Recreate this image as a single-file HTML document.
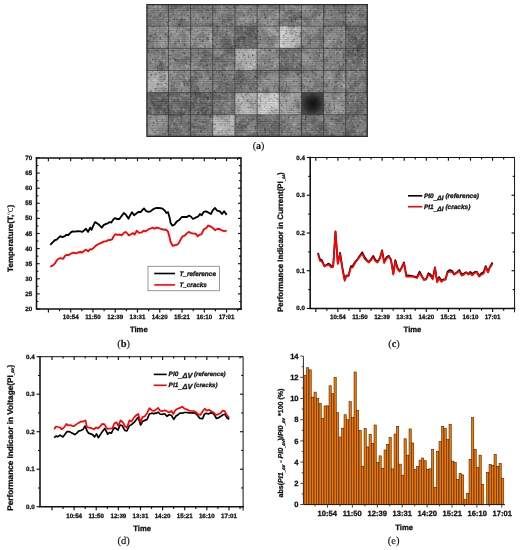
<!DOCTYPE html><html><head><meta charset="utf-8"><title>Figure</title>
<style>html,body{margin:0;padding:0;background:#fff}svg{display:block}text{font-family:"Liberation Sans","Noto Sans CJK SC",sans-serif;font-weight:bold;fill:#111;stroke:#111;stroke-width:0.28;text-rendering:geometricPrecision}.cap{font-family:"Liberation Serif",serif;font-weight:normal;fill:#111;stroke:#111;stroke-width:0.15}.ax{stroke:#111;fill:none}</style></head><body>
<svg width="524" height="550" viewBox="0 0 524 550">
<defs><filter id="nzd" x="0" y="0" width="100%" height="100%"><feTurbulence type="fractalNoise" baseFrequency="0.42" numOctaves="2" seed="3"/><feColorMatrix type="matrix" values="0 0 0 0 0  0 0 0 0 0  0 0 0 0 0  1.5 0 0 0 -0.86"/></filter><filter id="nzl" x="0" y="0" width="100%" height="100%"><feTurbulence type="fractalNoise" baseFrequency="0.35" numOctaves="2" seed="11"/><feColorMatrix type="matrix" values="0 0 0 0 1  0 0 0 0 1  0 0 0 0 1  0.8 0 0 0 -0.42"/></filter><filter id="cl" x="0" y="0" width="100%" height="100%"><feTurbulence type="fractalNoise" baseFrequency="0.09" numOctaves="2" seed="5"/><feColorMatrix type="matrix" values="0 0 0 0 0  0 0 0 0 0  0 0 0 0 0  0.55 0 0 0 -0.22"/></filter><filter id="cw" x="0" y="0" width="100%" height="100%"><feTurbulence type="fractalNoise" baseFrequency="0.08" numOctaves="2" seed="21"/><feColorMatrix type="matrix" values="0 0 0 0 1  0 0 0 0 1  0 0 0 0 1  0.45 0 0 0 -0.18"/></filter><radialGradient id="dk"><stop offset="0" stop-color="#0c0c0c"/><stop offset="0.6" stop-color="#262626"/><stop offset="1" stop-color="#444"/></radialGradient><linearGradient id="g12" x1="0" y1="0" x2="1" y2="0"><stop offset="0" stop-color="#8b8b8b"/><stop offset="1" stop-color="#ababab"/></linearGradient><linearGradient id="g15" x1="0" y1="0" x2="1" y2="0"><stop offset="0" stop-color="#8b8b8b"/><stop offset="1" stop-color="#a7a7a7"/></linearGradient><linearGradient id="g16" x1="0" y1="0" x2="1" y2="0"><stop offset="0" stop-color="#d9d9d9"/><stop offset="1" stop-color="#b1b1b1"/></linearGradient><linearGradient id="g17" x1="0" y1="0" x2="1" y2="0"><stop offset="0" stop-color="#959595"/><stop offset="1" stop-color="#818181"/></linearGradient><linearGradient id="g50" x1="0" y1="0" x2="1" y2="0"><stop offset="0" stop-color="#a1a1a1"/><stop offset="1" stop-color="#8b8b8b"/></linearGradient><linearGradient id="g46" x1="0" y1="0" x2="1" y2="0"><stop offset="0" stop-color="#b5b5b5"/><stop offset="1" stop-color="#9d9d9d"/></linearGradient></defs>
<rect width="524" height="550" fill="#fff"/>
<clipPath id="elc"><rect x="146.30" y="3.90" width="221.60" height="133.08"/></clipPath>
<g id="el" clip-path="url(#elc)">
<rect x="146.30" y="3.90" width="221.60" height="133.08" fill="#383838"/>
<rect x="146.30" y="3.90" width="22.21" height="22.23" fill="#828282"/>
<rect x="168.46" y="3.90" width="22.21" height="22.23" fill="#808080"/>
<rect x="190.62" y="3.90" width="22.21" height="22.23" fill="#7c7c7c"/>
<rect x="212.78" y="3.90" width="22.21" height="22.23" fill="#868686"/>
<rect x="234.94" y="3.90" width="22.21" height="22.23" fill="#828282"/>
<rect x="257.10" y="3.90" width="22.21" height="22.23" fill="#888888"/>
<rect x="279.26" y="3.90" width="22.21" height="22.23" fill="#828282"/>
<rect x="301.42" y="3.90" width="22.21" height="22.23" fill="#868686"/>
<rect x="323.58" y="3.90" width="22.21" height="22.23" fill="#767676"/>
<rect x="345.74" y="3.90" width="22.21" height="22.23" fill="#7e7e7e"/>
<rect x="146.30" y="26.08" width="22.21" height="22.23" fill="#909090"/>
<rect x="168.46" y="26.08" width="22.21" height="22.23" fill="#949494"/>
<rect x="190.62" y="26.08" width="22.21" height="22.23" fill="url(#g12)"/>
<rect x="212.78" y="26.08" width="22.21" height="22.23" fill="#787878"/>
<rect x="234.94" y="26.08" width="22.21" height="22.23" fill="#6e6e6e"/>
<rect x="257.10" y="26.08" width="22.21" height="22.23" fill="url(#g15)"/>
<rect x="279.26" y="26.08" width="22.21" height="22.23" fill="url(#g16)"/>
<rect x="301.42" y="26.08" width="22.21" height="22.23" fill="url(#g17)"/>
<rect x="323.58" y="26.08" width="22.21" height="22.23" fill="#909090"/>
<rect x="345.74" y="26.08" width="22.21" height="22.23" fill="#6c6c6c"/>
<rect x="146.30" y="48.26" width="22.21" height="22.23" fill="#868686"/>
<rect x="168.46" y="48.26" width="22.21" height="22.23" fill="#888888"/>
<rect x="190.62" y="48.26" width="22.21" height="22.23" fill="#808080"/>
<rect x="212.78" y="48.26" width="22.21" height="22.23" fill="#7c7c7c"/>
<rect x="234.94" y="48.26" width="22.21" height="22.23" fill="#b2b2b2"/>
<rect x="257.10" y="48.26" width="22.21" height="22.23" fill="#949494"/>
<rect x="279.26" y="48.26" width="22.21" height="22.23" fill="#767676"/>
<rect x="301.42" y="48.26" width="22.21" height="22.23" fill="#8c8c8c"/>
<rect x="323.58" y="48.26" width="22.21" height="22.23" fill="#828282"/>
<rect x="345.74" y="48.26" width="22.21" height="22.23" fill="#747474"/>
<rect x="146.30" y="70.44" width="22.21" height="22.23" fill="#b2b2b2"/>
<rect x="168.46" y="70.44" width="22.21" height="22.23" fill="#888888"/>
<rect x="190.62" y="70.44" width="22.21" height="22.23" fill="#848484"/>
<rect x="212.78" y="70.44" width="22.21" height="22.23" fill="#747474"/>
<rect x="234.94" y="70.44" width="22.21" height="22.23" fill="#7a7a7a"/>
<rect x="257.10" y="70.44" width="22.21" height="22.23" fill="#8c8c8c"/>
<rect x="279.26" y="70.44" width="22.21" height="22.23" fill="#868686"/>
<rect x="301.42" y="70.44" width="22.21" height="22.23" fill="#868686"/>
<rect x="323.58" y="70.44" width="22.21" height="22.23" fill="#8e8e8e"/>
<rect x="345.74" y="70.44" width="22.21" height="22.23" fill="#7e7e7e"/>
<rect x="146.30" y="92.62" width="22.21" height="22.23" fill="#666666"/>
<rect x="168.46" y="92.62" width="22.21" height="22.23" fill="#6e6e6e"/>
<rect x="190.62" y="92.62" width="22.21" height="22.23" fill="#686868"/>
<rect x="212.78" y="92.62" width="22.21" height="22.23" fill="#7c7c7c"/>
<rect x="234.94" y="92.62" width="22.21" height="22.23" fill="#bababa"/>
<rect x="257.10" y="92.62" width="22.21" height="22.23" fill="#d2d2d2"/>
<rect x="279.26" y="92.62" width="22.21" height="22.23" fill="url(#g46)"/>
<rect x="301.42" y="92.62" width="22.21" height="22.23" fill="url(#dk)"/>
<rect x="323.58" y="92.62" width="22.21" height="22.23" fill="#949494"/>
<rect x="345.74" y="92.62" width="22.21" height="22.23" fill="#747474"/>
<rect x="146.30" y="114.80" width="22.21" height="22.23" fill="url(#g50)"/>
<rect x="168.46" y="114.80" width="22.21" height="22.23" fill="#787878"/>
<rect x="190.62" y="114.80" width="22.21" height="22.23" fill="#787878"/>
<rect x="212.78" y="114.80" width="22.21" height="22.23" fill="#bebebe"/>
<rect x="234.94" y="114.80" width="22.21" height="22.23" fill="#7a7a7a"/>
<rect x="257.10" y="114.80" width="22.21" height="22.23" fill="#747474"/>
<rect x="279.26" y="114.80" width="22.21" height="22.23" fill="#868686"/>
<rect x="301.42" y="114.80" width="22.21" height="22.23" fill="#767676"/>
<rect x="323.58" y="114.80" width="22.21" height="22.23" fill="#7e7e7e"/>
<rect x="345.74" y="114.80" width="22.21" height="22.23" fill="#7a7a7a"/>
<line x1="146.3" y1="6.12" x2="367.9" y2="6.12" stroke="#000" stroke-opacity="0.2" stroke-width="0.7"/>
<line x1="146.3" y1="8.34" x2="367.9" y2="8.34" stroke="#000" stroke-opacity="0.2" stroke-width="0.7"/>
<line x1="146.3" y1="10.55" x2="367.9" y2="10.55" stroke="#000" stroke-opacity="0.2" stroke-width="0.7"/>
<line x1="146.3" y1="12.77" x2="367.9" y2="12.77" stroke="#000" stroke-opacity="0.2" stroke-width="0.7"/>
<line x1="146.3" y1="14.99" x2="367.9" y2="14.99" stroke="#000" stroke-opacity="0.2" stroke-width="0.7"/>
<line x1="146.3" y1="17.21" x2="367.9" y2="17.21" stroke="#000" stroke-opacity="0.2" stroke-width="0.7"/>
<line x1="146.3" y1="19.43" x2="367.9" y2="19.43" stroke="#000" stroke-opacity="0.2" stroke-width="0.7"/>
<line x1="146.3" y1="21.64" x2="367.9" y2="21.64" stroke="#000" stroke-opacity="0.2" stroke-width="0.7"/>
<line x1="146.3" y1="23.86" x2="367.9" y2="23.86" stroke="#000" stroke-opacity="0.2" stroke-width="0.7"/>
<line x1="146.3" y1="28.30" x2="367.9" y2="28.30" stroke="#000" stroke-opacity="0.2" stroke-width="0.7"/>
<line x1="146.3" y1="30.52" x2="367.9" y2="30.52" stroke="#000" stroke-opacity="0.2" stroke-width="0.7"/>
<line x1="146.3" y1="32.73" x2="367.9" y2="32.73" stroke="#000" stroke-opacity="0.2" stroke-width="0.7"/>
<line x1="146.3" y1="34.95" x2="367.9" y2="34.95" stroke="#000" stroke-opacity="0.2" stroke-width="0.7"/>
<line x1="146.3" y1="37.17" x2="367.9" y2="37.17" stroke="#000" stroke-opacity="0.2" stroke-width="0.7"/>
<line x1="146.3" y1="39.39" x2="367.9" y2="39.39" stroke="#000" stroke-opacity="0.2" stroke-width="0.7"/>
<line x1="146.3" y1="41.61" x2="367.9" y2="41.61" stroke="#000" stroke-opacity="0.2" stroke-width="0.7"/>
<line x1="146.3" y1="43.82" x2="367.9" y2="43.82" stroke="#000" stroke-opacity="0.2" stroke-width="0.7"/>
<line x1="146.3" y1="46.04" x2="367.9" y2="46.04" stroke="#000" stroke-opacity="0.2" stroke-width="0.7"/>
<line x1="146.3" y1="50.48" x2="367.9" y2="50.48" stroke="#000" stroke-opacity="0.2" stroke-width="0.7"/>
<line x1="146.3" y1="52.70" x2="367.9" y2="52.70" stroke="#000" stroke-opacity="0.2" stroke-width="0.7"/>
<line x1="146.3" y1="54.91" x2="367.9" y2="54.91" stroke="#000" stroke-opacity="0.2" stroke-width="0.7"/>
<line x1="146.3" y1="57.13" x2="367.9" y2="57.13" stroke="#000" stroke-opacity="0.2" stroke-width="0.7"/>
<line x1="146.3" y1="59.35" x2="367.9" y2="59.35" stroke="#000" stroke-opacity="0.2" stroke-width="0.7"/>
<line x1="146.3" y1="61.57" x2="367.9" y2="61.57" stroke="#000" stroke-opacity="0.2" stroke-width="0.7"/>
<line x1="146.3" y1="63.79" x2="367.9" y2="63.79" stroke="#000" stroke-opacity="0.2" stroke-width="0.7"/>
<line x1="146.3" y1="66.00" x2="367.9" y2="66.00" stroke="#000" stroke-opacity="0.2" stroke-width="0.7"/>
<line x1="146.3" y1="68.22" x2="367.9" y2="68.22" stroke="#000" stroke-opacity="0.2" stroke-width="0.7"/>
<line x1="146.3" y1="72.66" x2="367.9" y2="72.66" stroke="#000" stroke-opacity="0.2" stroke-width="0.7"/>
<line x1="146.3" y1="74.88" x2="367.9" y2="74.88" stroke="#000" stroke-opacity="0.2" stroke-width="0.7"/>
<line x1="146.3" y1="77.09" x2="367.9" y2="77.09" stroke="#000" stroke-opacity="0.2" stroke-width="0.7"/>
<line x1="146.3" y1="79.31" x2="367.9" y2="79.31" stroke="#000" stroke-opacity="0.2" stroke-width="0.7"/>
<line x1="146.3" y1="81.53" x2="367.9" y2="81.53" stroke="#000" stroke-opacity="0.2" stroke-width="0.7"/>
<line x1="146.3" y1="83.75" x2="367.9" y2="83.75" stroke="#000" stroke-opacity="0.2" stroke-width="0.7"/>
<line x1="146.3" y1="85.97" x2="367.9" y2="85.97" stroke="#000" stroke-opacity="0.2" stroke-width="0.7"/>
<line x1="146.3" y1="88.18" x2="367.9" y2="88.18" stroke="#000" stroke-opacity="0.2" stroke-width="0.7"/>
<line x1="146.3" y1="90.40" x2="367.9" y2="90.40" stroke="#000" stroke-opacity="0.2" stroke-width="0.7"/>
<line x1="146.3" y1="94.84" x2="367.9" y2="94.84" stroke="#000" stroke-opacity="0.2" stroke-width="0.7"/>
<line x1="146.3" y1="97.06" x2="367.9" y2="97.06" stroke="#000" stroke-opacity="0.2" stroke-width="0.7"/>
<line x1="146.3" y1="99.27" x2="367.9" y2="99.27" stroke="#000" stroke-opacity="0.2" stroke-width="0.7"/>
<line x1="146.3" y1="101.49" x2="367.9" y2="101.49" stroke="#000" stroke-opacity="0.2" stroke-width="0.7"/>
<line x1="146.3" y1="103.71" x2="367.9" y2="103.71" stroke="#000" stroke-opacity="0.2" stroke-width="0.7"/>
<line x1="146.3" y1="105.93" x2="367.9" y2="105.93" stroke="#000" stroke-opacity="0.2" stroke-width="0.7"/>
<line x1="146.3" y1="108.15" x2="367.9" y2="108.15" stroke="#000" stroke-opacity="0.2" stroke-width="0.7"/>
<line x1="146.3" y1="110.36" x2="367.9" y2="110.36" stroke="#000" stroke-opacity="0.2" stroke-width="0.7"/>
<line x1="146.3" y1="112.58" x2="367.9" y2="112.58" stroke="#000" stroke-opacity="0.2" stroke-width="0.7"/>
<line x1="146.3" y1="117.02" x2="367.9" y2="117.02" stroke="#000" stroke-opacity="0.2" stroke-width="0.7"/>
<line x1="146.3" y1="119.24" x2="367.9" y2="119.24" stroke="#000" stroke-opacity="0.2" stroke-width="0.7"/>
<line x1="146.3" y1="121.45" x2="367.9" y2="121.45" stroke="#000" stroke-opacity="0.2" stroke-width="0.7"/>
<line x1="146.3" y1="123.67" x2="367.9" y2="123.67" stroke="#000" stroke-opacity="0.2" stroke-width="0.7"/>
<line x1="146.3" y1="125.89" x2="367.9" y2="125.89" stroke="#000" stroke-opacity="0.2" stroke-width="0.7"/>
<line x1="146.3" y1="128.11" x2="367.9" y2="128.11" stroke="#000" stroke-opacity="0.2" stroke-width="0.7"/>
<line x1="146.3" y1="130.33" x2="367.9" y2="130.33" stroke="#000" stroke-opacity="0.2" stroke-width="0.7"/>
<line x1="146.3" y1="132.54" x2="367.9" y2="132.54" stroke="#000" stroke-opacity="0.2" stroke-width="0.7"/>
<line x1="146.3" y1="134.76" x2="367.9" y2="134.76" stroke="#000" stroke-opacity="0.2" stroke-width="0.7"/>
<rect x="146.3" y="3.9" width="221.6" height="133.1" filter="url(#cl)" fill="#000"/>
<rect x="146.3" y="3.9" width="221.6" height="133.1" filter="url(#cw)" fill="#fff"/>
<rect x="146.3" y="3.9" width="221.6" height="133.1" filter="url(#nzl)" fill="#fff"/>
<rect x="146.3" y="3.9" width="221.6" height="133.1" filter="url(#nzd)" fill="#000"/>
<rect x="301.42" y="92.62" width="22.16" height="22.18" fill="url(#dk)" opacity="0.8"/>
<path d="M168.46,3.90 V136.98 M190.62,3.90 V136.98 M212.78,3.90 V136.98 M234.94,3.90 V136.98 M257.10,3.90 V136.98 M279.26,3.90 V136.98 M301.42,3.90 V136.98 M323.58,3.90 V136.98 M345.74,3.90 V136.98 M146.30,26.08 H367.90 M146.30,48.26 H367.90 M146.30,70.44 H367.90 M146.30,92.62 H367.90 M146.30,114.80 H367.90" stroke="#303030" stroke-opacity="0.75" stroke-width="0.8" fill="none"/>
<rect x="146.95" y="4.55" width="220.30" height="131.78" stroke="#2a2a2a" stroke-width="1.3" fill="none"/>
</g>
<text class="cap" x="258.6" y="148.6" font-size="10" text-anchor="middle">(<tspan font-weight="bold">a</tspan>)</text>
<text class="cap" x="123.6" y="346.6" font-size="10.4" text-anchor="middle">(<tspan font-weight="bold">b</tspan>)</text>
<text class="cap" x="394.0" y="346.6" font-size="10.4" text-anchor="middle">(<tspan font-weight="bold">c</tspan>)</text>
<text class="cap" x="123.6" y="544.3" font-size="10.6" text-anchor="middle">(d)</text>
<text class="cap" x="393.7" y="544.3" font-size="10.6" text-anchor="middle">(e)</text>
<g id="b">
<path class="ax" d="M36.50,158.00 V309.00 H241.00" stroke-width="1.55" stroke-linecap="square"/>
<path class="ax" d="M36.50,158.00 H241.00 V309.00" stroke-width="1.55" stroke-linecap="square"/>
<line class="ax" x1="48.40" y1="309.00" x2="48.40" y2="312.50" stroke-width="1.15"/>
<line class="ax" x1="48.40" y1="158.00" x2="48.40" y2="161.20" stroke-width="1.15"/>
<line class="ax" x1="59.53" y1="309.00" x2="59.53" y2="311.20" stroke-width="1.15"/>
<line class="ax" x1="59.53" y1="158.00" x2="59.53" y2="159.90" stroke-width="1.15"/>
<line class="ax" x1="70.67" y1="309.00" x2="70.67" y2="312.50" stroke-width="1.15"/>
<line class="ax" x1="70.67" y1="158.00" x2="70.67" y2="161.20" stroke-width="1.15"/>
<line class="ax" x1="81.81" y1="309.00" x2="81.81" y2="311.20" stroke-width="1.15"/>
<line class="ax" x1="81.81" y1="158.00" x2="81.81" y2="159.90" stroke-width="1.15"/>
<line class="ax" x1="92.94" y1="309.00" x2="92.94" y2="312.50" stroke-width="1.15"/>
<line class="ax" x1="92.94" y1="158.00" x2="92.94" y2="161.20" stroke-width="1.15"/>
<line class="ax" x1="104.08" y1="309.00" x2="104.08" y2="311.20" stroke-width="1.15"/>
<line class="ax" x1="104.08" y1="158.00" x2="104.08" y2="159.90" stroke-width="1.15"/>
<line class="ax" x1="115.21" y1="309.00" x2="115.21" y2="312.50" stroke-width="1.15"/>
<line class="ax" x1="115.21" y1="158.00" x2="115.21" y2="161.20" stroke-width="1.15"/>
<line class="ax" x1="126.35" y1="309.00" x2="126.35" y2="311.20" stroke-width="1.15"/>
<line class="ax" x1="126.35" y1="158.00" x2="126.35" y2="159.90" stroke-width="1.15"/>
<line class="ax" x1="137.48" y1="309.00" x2="137.48" y2="312.50" stroke-width="1.15"/>
<line class="ax" x1="137.48" y1="158.00" x2="137.48" y2="161.20" stroke-width="1.15"/>
<line class="ax" x1="148.62" y1="309.00" x2="148.62" y2="311.20" stroke-width="1.15"/>
<line class="ax" x1="148.62" y1="158.00" x2="148.62" y2="159.90" stroke-width="1.15"/>
<line class="ax" x1="159.75" y1="309.00" x2="159.75" y2="312.50" stroke-width="1.15"/>
<line class="ax" x1="159.75" y1="158.00" x2="159.75" y2="161.20" stroke-width="1.15"/>
<line class="ax" x1="170.88" y1="309.00" x2="170.88" y2="311.20" stroke-width="1.15"/>
<line class="ax" x1="170.88" y1="158.00" x2="170.88" y2="159.90" stroke-width="1.15"/>
<line class="ax" x1="182.02" y1="309.00" x2="182.02" y2="312.50" stroke-width="1.15"/>
<line class="ax" x1="182.02" y1="158.00" x2="182.02" y2="161.20" stroke-width="1.15"/>
<line class="ax" x1="193.15" y1="309.00" x2="193.15" y2="311.20" stroke-width="1.15"/>
<line class="ax" x1="193.15" y1="158.00" x2="193.15" y2="159.90" stroke-width="1.15"/>
<line class="ax" x1="204.29" y1="309.00" x2="204.29" y2="312.50" stroke-width="1.15"/>
<line class="ax" x1="204.29" y1="158.00" x2="204.29" y2="161.20" stroke-width="1.15"/>
<line class="ax" x1="215.42" y1="309.00" x2="215.42" y2="311.20" stroke-width="1.15"/>
<line class="ax" x1="215.42" y1="158.00" x2="215.42" y2="159.90" stroke-width="1.15"/>
<line class="ax" x1="226.56" y1="309.00" x2="226.56" y2="312.50" stroke-width="1.15"/>
<line class="ax" x1="226.56" y1="158.00" x2="226.56" y2="161.20" stroke-width="1.15"/>
<line class="ax" x1="237.69" y1="309.00" x2="237.69" y2="311.20" stroke-width="1.15"/>
<line class="ax" x1="237.69" y1="158.00" x2="237.69" y2="159.90" stroke-width="1.15"/>
<text x="70.67" y="318.65" font-size="6.2" text-anchor="middle">10:54</text>
<text x="92.94" y="318.65" font-size="6.2" text-anchor="middle">11:50</text>
<text x="115.21" y="318.65" font-size="6.2" text-anchor="middle">12:39</text>
<text x="137.48" y="318.65" font-size="6.2" text-anchor="middle">13:31</text>
<text x="159.75" y="318.65" font-size="6.2" text-anchor="middle">14:20</text>
<text x="182.02" y="318.65" font-size="6.2" text-anchor="middle">15:21</text>
<text x="204.29" y="318.65" font-size="6.2" text-anchor="middle">16:10</text>
<text x="226.56" y="318.65" font-size="6.2" text-anchor="middle">17:01</text>
<line class="ax" x1="36.50" y1="309.00" x2="39.70" y2="309.00" stroke-width="1.15"/>
<line class="ax" x1="238.00" y1="309.00" x2="241.00" y2="309.00" stroke-width="1.15"/>
<text x="32.20" y="311.00" font-size="6.2" text-anchor="end">20</text>
<line class="ax" x1="36.50" y1="301.45" x2="38.40" y2="301.45" stroke-width="1.15"/>
<line class="ax" x1="239.10" y1="301.45" x2="241.00" y2="301.45" stroke-width="1.15"/>
<line class="ax" x1="36.50" y1="293.90" x2="39.70" y2="293.90" stroke-width="1.15"/>
<line class="ax" x1="238.00" y1="293.90" x2="241.00" y2="293.90" stroke-width="1.15"/>
<text x="32.20" y="295.90" font-size="6.2" text-anchor="end">25</text>
<line class="ax" x1="36.50" y1="286.35" x2="38.40" y2="286.35" stroke-width="1.15"/>
<line class="ax" x1="239.10" y1="286.35" x2="241.00" y2="286.35" stroke-width="1.15"/>
<line class="ax" x1="36.50" y1="278.80" x2="39.70" y2="278.80" stroke-width="1.15"/>
<line class="ax" x1="238.00" y1="278.80" x2="241.00" y2="278.80" stroke-width="1.15"/>
<text x="32.20" y="280.80" font-size="6.2" text-anchor="end">30</text>
<line class="ax" x1="36.50" y1="271.25" x2="38.40" y2="271.25" stroke-width="1.15"/>
<line class="ax" x1="239.10" y1="271.25" x2="241.00" y2="271.25" stroke-width="1.15"/>
<line class="ax" x1="36.50" y1="263.70" x2="39.70" y2="263.70" stroke-width="1.15"/>
<line class="ax" x1="238.00" y1="263.70" x2="241.00" y2="263.70" stroke-width="1.15"/>
<text x="32.20" y="265.70" font-size="6.2" text-anchor="end">35</text>
<line class="ax" x1="36.50" y1="256.15" x2="38.40" y2="256.15" stroke-width="1.15"/>
<line class="ax" x1="239.10" y1="256.15" x2="241.00" y2="256.15" stroke-width="1.15"/>
<line class="ax" x1="36.50" y1="248.60" x2="39.70" y2="248.60" stroke-width="1.15"/>
<line class="ax" x1="238.00" y1="248.60" x2="241.00" y2="248.60" stroke-width="1.15"/>
<text x="32.20" y="250.60" font-size="6.2" text-anchor="end">40</text>
<line class="ax" x1="36.50" y1="241.05" x2="38.40" y2="241.05" stroke-width="1.15"/>
<line class="ax" x1="239.10" y1="241.05" x2="241.00" y2="241.05" stroke-width="1.15"/>
<line class="ax" x1="36.50" y1="233.50" x2="39.70" y2="233.50" stroke-width="1.15"/>
<line class="ax" x1="238.00" y1="233.50" x2="241.00" y2="233.50" stroke-width="1.15"/>
<text x="32.20" y="235.50" font-size="6.2" text-anchor="end">45</text>
<line class="ax" x1="36.50" y1="225.95" x2="38.40" y2="225.95" stroke-width="1.15"/>
<line class="ax" x1="239.10" y1="225.95" x2="241.00" y2="225.95" stroke-width="1.15"/>
<line class="ax" x1="36.50" y1="218.40" x2="39.70" y2="218.40" stroke-width="1.15"/>
<line class="ax" x1="238.00" y1="218.40" x2="241.00" y2="218.40" stroke-width="1.15"/>
<text x="32.20" y="220.40" font-size="6.2" text-anchor="end">50</text>
<line class="ax" x1="36.50" y1="210.85" x2="38.40" y2="210.85" stroke-width="1.15"/>
<line class="ax" x1="239.10" y1="210.85" x2="241.00" y2="210.85" stroke-width="1.15"/>
<line class="ax" x1="36.50" y1="203.30" x2="39.70" y2="203.30" stroke-width="1.15"/>
<line class="ax" x1="238.00" y1="203.30" x2="241.00" y2="203.30" stroke-width="1.15"/>
<text x="32.20" y="205.30" font-size="6.2" text-anchor="end">55</text>
<line class="ax" x1="36.50" y1="195.75" x2="38.40" y2="195.75" stroke-width="1.15"/>
<line class="ax" x1="239.10" y1="195.75" x2="241.00" y2="195.75" stroke-width="1.15"/>
<line class="ax" x1="36.50" y1="188.20" x2="39.70" y2="188.20" stroke-width="1.15"/>
<line class="ax" x1="238.00" y1="188.20" x2="241.00" y2="188.20" stroke-width="1.15"/>
<text x="32.20" y="190.20" font-size="6.2" text-anchor="end">60</text>
<line class="ax" x1="36.50" y1="180.65" x2="38.40" y2="180.65" stroke-width="1.15"/>
<line class="ax" x1="239.10" y1="180.65" x2="241.00" y2="180.65" stroke-width="1.15"/>
<line class="ax" x1="36.50" y1="173.10" x2="39.70" y2="173.10" stroke-width="1.15"/>
<line class="ax" x1="238.00" y1="173.10" x2="241.00" y2="173.10" stroke-width="1.15"/>
<text x="32.20" y="175.10" font-size="6.2" text-anchor="end">65</text>
<line class="ax" x1="36.50" y1="165.55" x2="38.40" y2="165.55" stroke-width="1.15"/>
<line class="ax" x1="239.10" y1="165.55" x2="241.00" y2="165.55" stroke-width="1.15"/>
<line class="ax" x1="36.50" y1="158.00" x2="39.70" y2="158.00" stroke-width="1.15"/>
<line class="ax" x1="238.00" y1="158.00" x2="241.00" y2="158.00" stroke-width="1.15"/>
<text x="32.20" y="160.00" font-size="6.2" text-anchor="end">70</text>
<path d="M50.3,244.8 L52.9,242.2 L55.1,240.0 L56.8,239.7 L58.6,237.6 L60.3,236.2 L62.3,237.1 L64.9,236.2 L66.1,234.8 L68.3,235.0 L70.9,232.4 L72.6,231.4 L75.2,231.6 L77.8,231.1 L80.4,231.4 L82.1,231.9 L84.3,230.2 L86.0,228.7 L88.1,231.9 L90.2,227.6 L91.5,229.9 L93.2,225.9 L95.0,222.1 L97.0,223.3 L99.3,225.1 L101.8,227.6 L103.6,225.1 L106.1,223.9 L107.8,223.3 L109.6,222.1 L111.3,222.5 L113.0,219.9 L114.7,218.2 L117.3,219.0 L119.4,219.0 L121.6,216.0 L123.8,213.0 L125.9,214.8 L128.5,218.7 L130.0,215.6 L132.0,212.2 L134.1,215.3 L136.3,213.6 L138.6,211.8 L140.6,212.2 L142.3,210.1 L144.0,208.4 L145.8,210.8 L148.3,211.8 L150.6,211.3 L152.6,209.6 L155.2,208.2 L157.8,207.9 L160.4,208.2 L162.6,208.7 L164.7,210.5 L166.4,213.0 L168.1,212.2 L169.5,217.3 L170.7,223.3 L172.4,225.6 L174.6,224.5 L176.7,221.6 L179.3,219.9 L181.8,217.0 L184.4,217.0 L187.0,217.0 L188.7,215.6 L190.8,216.5 L193.0,219.0 L195.6,217.7 L198.2,216.5 L199.9,213.9 L201.6,215.3 L203.8,211.8 L205.9,211.3 L207.9,212.2 L210.9,214.0 L212.9,210.1 L215.0,208.0 L217.2,210.6 L219.8,211.3 L222.0,214.0 L224.1,211.3 L226.7,214.9" fill="none" stroke="#000" stroke-width="1.85" stroke-linejoin="round"/>
<path d="M50.3,266.8 L52.9,265.4 L55.1,263.4 L56.8,260.3 L58.6,258.6 L60.6,258.2 L63.2,258.9 L64.9,256.0 L66.6,254.8 L68.3,255.1 L70.9,253.7 L73.5,252.7 L76.1,253.4 L78.1,252.5 L80.4,252.0 L82.1,252.5 L84.3,250.8 L86.0,249.6 L88.1,251.3 L90.2,249.1 L91.5,249.6 L93.6,247.9 L95.8,245.7 L97.5,244.5 L100.1,243.4 L102.7,242.2 L104.4,241.4 L106.1,241.4 L107.8,240.2 L110.4,240.0 L112.1,239.3 L114.2,235.4 L115.6,234.2 L117.6,234.8 L119.9,234.5 L121.6,235.4 L123.8,233.1 L125.5,231.9 L127.6,233.6 L128.6,235.4 L130.6,234.5 L132.9,233.1 L134.6,234.5 L136.8,230.7 L138.9,232.8 L141.5,232.4 L143.7,230.7 L145.8,231.4 L148.3,229.4 L150.6,228.5 L152.6,227.6 L154.4,228.8 L156.4,227.6 L158.6,228.0 L161.2,229.0 L163.8,229.7 L166.4,229.7 L168.1,231.9 L169.5,237.1 L170.7,242.2 L172.9,246.0 L175.0,245.2 L177.5,244.5 L179.3,242.2 L181.0,238.8 L182.7,236.2 L184.4,235.9 L186.6,233.6 L188.7,231.9 L191.3,233.1 L193.5,233.6 L195.6,233.6 L197.6,236.2 L199.4,234.8 L201.6,234.2 L203.8,229.4 L205.5,228.5 L207.3,226.8 L208.1,225.5 L210.4,226.4 L212.6,227.7 L215.0,230.2 L217.2,229.0 L219.5,229.0 L221.5,230.2 L224.1,231.2 L226.7,230.7" fill="none" stroke="#ff0000" stroke-width="1.85" stroke-linejoin="round"/>
<rect x="148" y="266.2" width="71.3" height="24.6" fill="#fff" stroke="#555" stroke-width="0.6"/>
<line x1="154.2" y1="273.5" x2="175.1" y2="273.5" stroke="#000" stroke-width="1.6"/>
<line x1="154.2" y1="284.9" x2="175.1" y2="284.9" stroke="#f00" stroke-width="1.6"/>
<text x="179.4" y="275.8" font-size="6.7" font-style="italic" textLength="36.6" lengthAdjust="spacingAndGlyphs">T_reference</text>
<text x="179.4" y="287.2" font-size="6.7" font-style="italic" textLength="27.4" lengthAdjust="spacingAndGlyphs">T_cracks</text>
<text x="138.8" y="332" font-size="7.7" text-anchor="middle">Time</text>
<text transform="translate(13.00,238.40) rotate(-90)" font-size="7.8" text-anchor="middle" textLength="67.0" lengthAdjust="spacingAndGlyphs">Temperature(T,<tspan font-weight="normal" font-size="7" stroke="none">℃</tspan>)</text>
</g>
<g id="c">
<path class="ax" d="M310.20,157.50 V308.45 H514.55" stroke-width="1.55" stroke-linecap="square"/>
<path class="ax" d="M310.20,157.50 H514.55 V311.85" stroke-width="1.00" stroke-linecap="square"/>
<line class="ax" x1="315.80" y1="308.45" x2="315.80" y2="311.95" stroke-width="1.15"/>
<line class="ax" x1="315.80" y1="157.50" x2="315.80" y2="160.70" stroke-width="1.15"/>
<line class="ax" x1="326.85" y1="308.45" x2="326.85" y2="310.65" stroke-width="1.15"/>
<line class="ax" x1="326.85" y1="157.50" x2="326.85" y2="159.40" stroke-width="1.15"/>
<line class="ax" x1="337.90" y1="308.45" x2="337.90" y2="311.95" stroke-width="1.15"/>
<line class="ax" x1="337.90" y1="157.50" x2="337.90" y2="160.70" stroke-width="1.15"/>
<line class="ax" x1="348.95" y1="308.45" x2="348.95" y2="310.65" stroke-width="1.15"/>
<line class="ax" x1="348.95" y1="157.50" x2="348.95" y2="159.40" stroke-width="1.15"/>
<line class="ax" x1="360.00" y1="308.45" x2="360.00" y2="311.95" stroke-width="1.15"/>
<line class="ax" x1="360.00" y1="157.50" x2="360.00" y2="160.70" stroke-width="1.15"/>
<line class="ax" x1="371.05" y1="308.45" x2="371.05" y2="310.65" stroke-width="1.15"/>
<line class="ax" x1="371.05" y1="157.50" x2="371.05" y2="159.40" stroke-width="1.15"/>
<line class="ax" x1="382.10" y1="308.45" x2="382.10" y2="311.95" stroke-width="1.15"/>
<line class="ax" x1="382.10" y1="157.50" x2="382.10" y2="160.70" stroke-width="1.15"/>
<line class="ax" x1="393.15" y1="308.45" x2="393.15" y2="310.65" stroke-width="1.15"/>
<line class="ax" x1="393.15" y1="157.50" x2="393.15" y2="159.40" stroke-width="1.15"/>
<line class="ax" x1="404.20" y1="308.45" x2="404.20" y2="311.95" stroke-width="1.15"/>
<line class="ax" x1="404.20" y1="157.50" x2="404.20" y2="160.70" stroke-width="1.15"/>
<line class="ax" x1="415.25" y1="308.45" x2="415.25" y2="310.65" stroke-width="1.15"/>
<line class="ax" x1="415.25" y1="157.50" x2="415.25" y2="159.40" stroke-width="1.15"/>
<line class="ax" x1="426.30" y1="308.45" x2="426.30" y2="311.95" stroke-width="1.15"/>
<line class="ax" x1="426.30" y1="157.50" x2="426.30" y2="160.70" stroke-width="1.15"/>
<line class="ax" x1="437.35" y1="308.45" x2="437.35" y2="310.65" stroke-width="1.15"/>
<line class="ax" x1="437.35" y1="157.50" x2="437.35" y2="159.40" stroke-width="1.15"/>
<line class="ax" x1="448.40" y1="308.45" x2="448.40" y2="311.95" stroke-width="1.15"/>
<line class="ax" x1="448.40" y1="157.50" x2="448.40" y2="160.70" stroke-width="1.15"/>
<line class="ax" x1="459.45" y1="308.45" x2="459.45" y2="310.65" stroke-width="1.15"/>
<line class="ax" x1="459.45" y1="157.50" x2="459.45" y2="159.40" stroke-width="1.15"/>
<line class="ax" x1="470.50" y1="308.45" x2="470.50" y2="311.95" stroke-width="1.15"/>
<line class="ax" x1="470.50" y1="157.50" x2="470.50" y2="160.70" stroke-width="1.15"/>
<line class="ax" x1="481.55" y1="308.45" x2="481.55" y2="310.65" stroke-width="1.15"/>
<line class="ax" x1="481.55" y1="157.50" x2="481.55" y2="159.40" stroke-width="1.15"/>
<line class="ax" x1="492.60" y1="308.45" x2="492.60" y2="311.95" stroke-width="1.15"/>
<line class="ax" x1="492.60" y1="157.50" x2="492.60" y2="160.70" stroke-width="1.15"/>
<line class="ax" x1="503.65" y1="308.45" x2="503.65" y2="310.65" stroke-width="1.15"/>
<line class="ax" x1="503.65" y1="157.50" x2="503.65" y2="159.40" stroke-width="1.15"/>
<text x="337.90" y="318.50" font-size="6.2" text-anchor="middle">10:54</text>
<text x="360.00" y="318.50" font-size="6.2" text-anchor="middle">11:50</text>
<text x="382.10" y="318.50" font-size="6.2" text-anchor="middle">12:39</text>
<text x="404.20" y="318.50" font-size="6.2" text-anchor="middle">13:31</text>
<text x="426.30" y="318.50" font-size="6.2" text-anchor="middle">14:20</text>
<text x="448.40" y="318.50" font-size="6.2" text-anchor="middle">15:21</text>
<text x="470.50" y="318.50" font-size="6.2" text-anchor="middle">16:10</text>
<text x="492.60" y="318.50" font-size="6.2" text-anchor="middle">17:01</text>
<line class="ax" x1="306.80" y1="308.45" x2="310.20" y2="308.45" stroke-width="1.15"/>
<line class="ax" x1="511.55" y1="308.45" x2="514.55" y2="308.45" stroke-width="1.15"/>
<text x="304.90" y="310.45" font-size="6.2" text-anchor="end">0.0</text>
<line class="ax" x1="308.20" y1="289.58" x2="310.20" y2="289.58" stroke-width="1.15"/>
<line class="ax" x1="512.65" y1="289.58" x2="514.55" y2="289.58" stroke-width="1.15"/>
<line class="ax" x1="306.80" y1="270.71" x2="310.20" y2="270.71" stroke-width="1.15"/>
<line class="ax" x1="511.55" y1="270.71" x2="514.55" y2="270.71" stroke-width="1.15"/>
<text x="304.90" y="272.71" font-size="6.2" text-anchor="end">0.1</text>
<line class="ax" x1="308.20" y1="251.84" x2="310.20" y2="251.84" stroke-width="1.15"/>
<line class="ax" x1="512.65" y1="251.84" x2="514.55" y2="251.84" stroke-width="1.15"/>
<line class="ax" x1="306.80" y1="232.97" x2="310.20" y2="232.97" stroke-width="1.15"/>
<line class="ax" x1="511.55" y1="232.97" x2="514.55" y2="232.97" stroke-width="1.15"/>
<text x="304.90" y="234.97" font-size="6.2" text-anchor="end">0.2</text>
<line class="ax" x1="308.20" y1="214.11" x2="310.20" y2="214.11" stroke-width="1.15"/>
<line class="ax" x1="512.65" y1="214.11" x2="514.55" y2="214.11" stroke-width="1.15"/>
<line class="ax" x1="306.80" y1="195.24" x2="310.20" y2="195.24" stroke-width="1.15"/>
<line class="ax" x1="511.55" y1="195.24" x2="514.55" y2="195.24" stroke-width="1.15"/>
<text x="304.90" y="197.24" font-size="6.2" text-anchor="end">0.3</text>
<line class="ax" x1="308.20" y1="176.37" x2="310.20" y2="176.37" stroke-width="1.15"/>
<line class="ax" x1="512.65" y1="176.37" x2="514.55" y2="176.37" stroke-width="1.15"/>
<line class="ax" x1="306.80" y1="157.50" x2="310.20" y2="157.50" stroke-width="1.15"/>
<line class="ax" x1="511.55" y1="157.50" x2="514.55" y2="157.50" stroke-width="1.15"/>
<text x="304.90" y="159.50" font-size="6.2" text-anchor="end">0.4</text>
<path d="M318.0,253.1 L320.0,259.4 L321.8,260.1 L324.5,266.0 L326.4,265.0 L328.7,263.6 L331.3,265.9 L333.2,265.8 L335.5,231.4 L337.8,263.4 L340.1,252.8 L342.4,267.7 L344.7,279.7 L346.5,275.3 L348.5,275.6 L350.8,266.4 L352.6,265.9 L355.4,261.5 L357.7,259.0 L360.0,255.6 L362.3,252.3 L364.5,257.1 L366.8,260.1 L368.8,262.1 L371.0,259.3 L373.2,255.9 L375.2,259.5 L377.5,261.8 L379.8,258.2 L382.1,250.3 L384.1,261.6 L386.5,257.3 L388.7,255.8 L391.0,259.7 L393.3,273.5 L395.3,260.1 L397.6,268.1 L399.7,271.1 L401.7,267.3 L404.0,262.3 L406.3,275.1 L409.4,275.6 L412.4,276.2 L415.0,276.6 L417.0,276.8 L419.6,271.6 L421.6,275.3 L423.9,279.6 L426.1,279.0 L428.4,273.2 L430.7,274.7 L432.7,278.4 L435.0,267.4 L437.1,281.4 L439.1,277.0 L441.4,280.4 L443.4,279.3 L445.5,279.3 L447.5,271.7 L449.8,270.0 L452.1,270.8 L454.1,274.1 L457.0,272.2 L459.3,270.0 L461.6,274.1 L463.8,273.5 L466.1,272.2 L468.4,274.1 L470.3,271.9 L472.2,273.8 L474.5,272.1 L476.8,271.6 L479.1,276.0 L481.4,273.3 L483.7,272.0 L485.7,266.1 L488.0,272.0 L489.8,267.1 L492.5,262.5" fill="none" stroke="#000" stroke-width="1.7" stroke-linejoin="round"/>
<path d="M318.0,254.1 L320.0,260.9 L321.8,261.4 L324.5,266.6 L326.4,265.5 L328.7,264.7 L331.3,267.5 L333.2,267.0 L335.5,231.9 L337.8,264.0 L340.1,254.1 L342.4,269.3 L344.7,280.8 L346.5,275.7 L348.5,276.2 L350.8,267.8 L352.6,267.5 L355.4,262.5 L357.7,259.4 L360.0,256.4 L362.3,253.8 L364.5,258.6 L366.8,260.9 L368.8,262.5 L371.0,260.2 L373.2,257.4 L375.2,260.9 L377.5,262.5 L379.8,258.6 L382.1,251.3 L384.1,263.2 L386.5,258.6 L388.7,256.4 L391.0,260.2 L393.3,274.7 L395.3,261.7 L397.6,269.3 L399.7,271.6 L401.7,267.8 L404.0,263.5 L406.3,276.7 L409.4,276.7 L412.4,276.7 L415.0,277.3 L417.0,278.2 L419.6,273.1 L421.6,276.2 L423.9,280.0 L426.1,279.7 L428.4,274.7 L430.7,276.2 L432.7,279.3 L435.0,267.8 L437.1,282.3 L439.1,278.5 L441.4,281.8 L443.4,280.0 L445.5,279.7 L447.5,272.7 L449.8,271.6 L452.1,272.1 L454.1,274.7 L457.0,272.7 L459.3,271.2 L461.6,275.7 L463.8,274.7 L466.1,272.7 L468.4,274.7 L470.3,273.1 L472.2,275.4 L474.5,273.1 L476.8,272.1 L479.1,276.7 L481.4,274.7 L483.7,273.6 L485.7,267.0 L488.0,272.4 L489.8,267.8 L492.5,264.0" fill="none" stroke="#ff0000" stroke-width="1.7" stroke-linejoin="round"/>
<line x1="408" y1="195.8" x2="422.3" y2="195.8" stroke="#000" stroke-width="1.6"/>
<line x1="408" y1="206.7" x2="422.3" y2="206.7" stroke="#f00" stroke-width="1.6"/>
<text x="423.9" y="197.6" font-size="6.5" font-style="italic">PI0<tspan dy="2.2" font-size="6.6">_ΔI</tspan><tspan dy="-2.2"> (reference)</tspan></text>
<text x="423.9" y="208.5" font-size="6.5" font-style="italic">PI1<tspan dy="2.2" font-size="6.6">_ΔI</tspan><tspan dy="-2.2"> (cracks)</tspan></text>
<text x="412.5" y="332.3" font-size="7.7" text-anchor="middle">Time</text>
<text transform="translate(283.40,242.20) rotate(-90)" font-size="7.9" text-anchor="middle" textLength="139.5" lengthAdjust="spacingAndGlyphs">Performance Indicaor in Current(PI<tspan dy="1.5" font-size="4">_ΔI</tspan><tspan dy="-1.5">)</tspan></text>
</g>
<g id="d">
<path class="ax" d="M40.00,356.70 V506.70 H243.10" stroke-width="1.55" stroke-linecap="square"/>
<path class="ax" d="M40.00,356.70 H243.10 V510.10" stroke-width="1.00" stroke-linecap="square"/>
<line class="ax" x1="52.00" y1="506.70" x2="52.00" y2="510.20" stroke-width="1.15"/>
<line class="ax" x1="52.00" y1="356.70" x2="52.00" y2="359.90" stroke-width="1.15"/>
<line class="ax" x1="63.06" y1="506.70" x2="63.06" y2="508.90" stroke-width="1.15"/>
<line class="ax" x1="63.06" y1="356.70" x2="63.06" y2="358.60" stroke-width="1.15"/>
<line class="ax" x1="74.12" y1="506.70" x2="74.12" y2="510.20" stroke-width="1.15"/>
<line class="ax" x1="74.12" y1="356.70" x2="74.12" y2="359.90" stroke-width="1.15"/>
<line class="ax" x1="85.18" y1="506.70" x2="85.18" y2="508.90" stroke-width="1.15"/>
<line class="ax" x1="85.18" y1="356.70" x2="85.18" y2="358.60" stroke-width="1.15"/>
<line class="ax" x1="96.24" y1="506.70" x2="96.24" y2="510.20" stroke-width="1.15"/>
<line class="ax" x1="96.24" y1="356.70" x2="96.24" y2="359.90" stroke-width="1.15"/>
<line class="ax" x1="107.30" y1="506.70" x2="107.30" y2="508.90" stroke-width="1.15"/>
<line class="ax" x1="107.30" y1="356.70" x2="107.30" y2="358.60" stroke-width="1.15"/>
<line class="ax" x1="118.36" y1="506.70" x2="118.36" y2="510.20" stroke-width="1.15"/>
<line class="ax" x1="118.36" y1="356.70" x2="118.36" y2="359.90" stroke-width="1.15"/>
<line class="ax" x1="129.42" y1="506.70" x2="129.42" y2="508.90" stroke-width="1.15"/>
<line class="ax" x1="129.42" y1="356.70" x2="129.42" y2="358.60" stroke-width="1.15"/>
<line class="ax" x1="140.48" y1="506.70" x2="140.48" y2="510.20" stroke-width="1.15"/>
<line class="ax" x1="140.48" y1="356.70" x2="140.48" y2="359.90" stroke-width="1.15"/>
<line class="ax" x1="151.54" y1="506.70" x2="151.54" y2="508.90" stroke-width="1.15"/>
<line class="ax" x1="151.54" y1="356.70" x2="151.54" y2="358.60" stroke-width="1.15"/>
<line class="ax" x1="162.60" y1="506.70" x2="162.60" y2="510.20" stroke-width="1.15"/>
<line class="ax" x1="162.60" y1="356.70" x2="162.60" y2="359.90" stroke-width="1.15"/>
<line class="ax" x1="173.66" y1="506.70" x2="173.66" y2="508.90" stroke-width="1.15"/>
<line class="ax" x1="173.66" y1="356.70" x2="173.66" y2="358.60" stroke-width="1.15"/>
<line class="ax" x1="184.72" y1="506.70" x2="184.72" y2="510.20" stroke-width="1.15"/>
<line class="ax" x1="184.72" y1="356.70" x2="184.72" y2="359.90" stroke-width="1.15"/>
<line class="ax" x1="195.78" y1="506.70" x2="195.78" y2="508.90" stroke-width="1.15"/>
<line class="ax" x1="195.78" y1="356.70" x2="195.78" y2="358.60" stroke-width="1.15"/>
<line class="ax" x1="206.84" y1="506.70" x2="206.84" y2="510.20" stroke-width="1.15"/>
<line class="ax" x1="206.84" y1="356.70" x2="206.84" y2="359.90" stroke-width="1.15"/>
<line class="ax" x1="217.90" y1="506.70" x2="217.90" y2="508.90" stroke-width="1.15"/>
<line class="ax" x1="217.90" y1="356.70" x2="217.90" y2="358.60" stroke-width="1.15"/>
<line class="ax" x1="228.96" y1="506.70" x2="228.96" y2="510.20" stroke-width="1.15"/>
<line class="ax" x1="228.96" y1="356.70" x2="228.96" y2="359.90" stroke-width="1.15"/>
<line class="ax" x1="240.02" y1="506.70" x2="240.02" y2="508.90" stroke-width="1.15"/>
<line class="ax" x1="240.02" y1="356.70" x2="240.02" y2="358.60" stroke-width="1.15"/>
<text x="74.12" y="517.50" font-size="6.2" text-anchor="middle">10:54</text>
<text x="96.24" y="517.50" font-size="6.2" text-anchor="middle">11:50</text>
<text x="118.36" y="517.50" font-size="6.2" text-anchor="middle">12:39</text>
<text x="140.48" y="517.50" font-size="6.2" text-anchor="middle">13:31</text>
<text x="162.60" y="517.50" font-size="6.2" text-anchor="middle">14:20</text>
<text x="184.72" y="517.50" font-size="6.2" text-anchor="middle">15:21</text>
<text x="206.84" y="517.50" font-size="6.2" text-anchor="middle">16:10</text>
<text x="228.96" y="517.50" font-size="6.2" text-anchor="middle">17:01</text>
<line class="ax" x1="36.60" y1="506.70" x2="40.00" y2="506.70" stroke-width="1.15"/>
<line class="ax" x1="240.10" y1="506.70" x2="243.10" y2="506.70" stroke-width="1.15"/>
<text x="34.70" y="508.70" font-size="6.2" text-anchor="end">0.0</text>
<line class="ax" x1="38.00" y1="487.95" x2="40.00" y2="487.95" stroke-width="1.15"/>
<line class="ax" x1="241.20" y1="487.95" x2="243.10" y2="487.95" stroke-width="1.15"/>
<line class="ax" x1="36.60" y1="469.20" x2="40.00" y2="469.20" stroke-width="1.15"/>
<line class="ax" x1="240.10" y1="469.20" x2="243.10" y2="469.20" stroke-width="1.15"/>
<text x="34.70" y="471.20" font-size="6.2" text-anchor="end">0.1</text>
<line class="ax" x1="38.00" y1="450.45" x2="40.00" y2="450.45" stroke-width="1.15"/>
<line class="ax" x1="241.20" y1="450.45" x2="243.10" y2="450.45" stroke-width="1.15"/>
<line class="ax" x1="36.60" y1="431.70" x2="40.00" y2="431.70" stroke-width="1.15"/>
<line class="ax" x1="240.10" y1="431.70" x2="243.10" y2="431.70" stroke-width="1.15"/>
<text x="34.70" y="433.70" font-size="6.2" text-anchor="end">0.2</text>
<line class="ax" x1="38.00" y1="412.95" x2="40.00" y2="412.95" stroke-width="1.15"/>
<line class="ax" x1="241.20" y1="412.95" x2="243.10" y2="412.95" stroke-width="1.15"/>
<line class="ax" x1="36.60" y1="394.20" x2="40.00" y2="394.20" stroke-width="1.15"/>
<line class="ax" x1="240.10" y1="394.20" x2="243.10" y2="394.20" stroke-width="1.15"/>
<text x="34.70" y="396.20" font-size="6.2" text-anchor="end">0.3</text>
<line class="ax" x1="38.00" y1="375.45" x2="40.00" y2="375.45" stroke-width="1.15"/>
<line class="ax" x1="241.20" y1="375.45" x2="243.10" y2="375.45" stroke-width="1.15"/>
<line class="ax" x1="36.60" y1="356.70" x2="40.00" y2="356.70" stroke-width="1.15"/>
<line class="ax" x1="240.10" y1="356.70" x2="243.10" y2="356.70" stroke-width="1.15"/>
<text x="34.70" y="358.70" font-size="6.2" text-anchor="end">0.4</text>
<path d="M54.2,437.7 L56.0,436.1 L58.0,436.6 L60.0,435.1 L61.5,436.1 L63.0,436.9 L64.8,434.6 L67.1,431.6 L69.1,431.6 L71.0,432.6 L72.9,433.5 L74.8,434.6 L76.8,433.1 L78.6,431.1 L80.9,430.5 L83.2,429.3 L85.0,425.9 L87.0,430.8 L88.5,433.1 L90.8,433.9 L92.6,434.6 L94.6,436.9 L96.5,433.9 L98.4,437.7 L100.3,434.6 L102.3,431.6 L104.8,428.5 L106.1,430.8 L107.6,434.2 L109.4,432.6 L111.4,433.1 L112.9,430.0 L114.5,427.7 L116.0,428.5 L118.0,430.0 L120.1,425.0 L122.1,425.5 L124.9,430.5 L126.9,430.8 L129.5,425.5 L131.5,424.7 L134.1,422.4 L136.4,419.4 L138.2,417.4 L140.6,425.0 L142.5,421.6 L144.8,420.4 L147.1,419.4 L149.4,414.0 L151.6,413.2 L153.9,413.7 L156.2,413.2 L158.1,412.2 L160.0,414.0 L162.3,414.3 L164.6,413.7 L166.9,416.3 L169.2,414.8 L171.5,415.5 L173.8,419.4 L175.8,416.3 L177.9,414.8 L179.9,413.2 L182.2,413.2 L184.5,412.5 L186.8,412.5 L189.0,412.8 L191.3,412.9 L195.3,413.2 L197.6,415.5 L199.8,418.3 L202.6,418.6 L204.4,414.3 L206.3,413.2 L208.2,414.0 L210.5,412.9 L212.8,413.2 L214.8,415.5 L216.3,418.3 L218.5,417.8 L220.9,416.3 L223.1,414.8 L225.0,414.3 L227.0,417.8 L229.2,419.4" fill="none" stroke="#000" stroke-width="1.7" stroke-linejoin="round"/>
<path d="M54.2,429.3 L56.0,426.5 L58.0,427.0 L60.0,427.4 L61.8,429.3 L64.1,427.4 L66.4,423.9 L68.2,425.5 L70.2,425.0 L72.2,425.9 L74.0,426.2 L76.3,424.4 L78.6,422.9 L80.9,421.6 L83.2,421.6 L85.5,420.4 L87.0,427.4 L89.3,427.7 L91.6,428.2 L93.9,429.3 L96.1,427.4 L97.7,428.5 L100.0,426.5 L102.3,423.9 L104.5,424.4 L106.1,427.0 L107.6,429.0 L109.9,428.5 L112.2,428.5 L114.5,423.2 L116.5,422.4 L118.3,425.9 L120.6,420.4 L122.9,422.4 L124.9,426.2 L126.9,427.7 L129.5,420.4 L131.5,421.6 L134.1,417.4 L136.4,415.2 L138.2,414.0 L140.6,422.4 L142.5,417.1 L144.8,416.3 L147.1,413.2 L149.4,408.2 L151.6,410.2 L153.9,411.0 L156.2,409.4 L158.1,407.9 L160.0,410.6 L162.3,411.3 L164.6,410.2 L166.9,411.3 L169.2,412.5 L171.5,411.0 L173.3,414.0 L175.3,410.2 L177.6,408.7 L179.9,407.9 L182.2,406.7 L184.5,408.7 L186.8,409.4 L189.0,410.6 L191.3,411.0 L193.7,411.0 L196.0,412.2 L198.3,414.3 L200.6,414.8 L202.9,411.0 L204.7,408.7 L206.7,410.6 L209.0,409.7 L211.3,411.3 L213.6,412.5 L215.9,414.8 L218.2,414.3 L220.5,413.2 L222.7,410.6 L224.6,411.0 L226.6,414.8 L229.2,417.8" fill="none" stroke="#ff0000" stroke-width="1.7" stroke-linejoin="round"/>
<line x1="153.7" y1="374.4" x2="166.7" y2="374.4" stroke="#000" stroke-width="1.6"/>
<line x1="153.7" y1="385.3" x2="166.7" y2="385.3" stroke="#f00" stroke-width="1.6"/>
<text x="168.6" y="376.2" font-size="6.5" font-style="italic">PI0<tspan dy="2.2" font-size="7.4">_ΔV</tspan><tspan dy="-2.6" font-size="6.1"> (reference)</tspan></text>
<text x="168.6" y="387.1" font-size="6.5" font-style="italic">PI1<tspan dy="2.2" font-size="7.4">_ΔV</tspan><tspan dy="-2.6" font-size="6.1"> (cracks)</tspan></text>
<text x="142.2" y="530.7" font-size="7.7" text-anchor="middle">Time</text>
<text transform="translate(12.90,437.80) rotate(-90)" font-size="8.2" text-anchor="middle" textLength="146.0" lengthAdjust="spacingAndGlyphs">Performance Indicaor in Voltage(PI<tspan dy="1.5" font-size="4">_ΔV</tspan><tspan dy="-1.5">)</tspan></text>
</g>
<g id="e">
<rect x="304.05" y="375.29" width="2.20" height="129.21" fill="#f47a00" stroke="#4a2000" stroke-width="0.6"/>
<rect x="306.55" y="367.76" width="2.20" height="136.74" fill="#f47a00" stroke="#4a2000" stroke-width="0.6"/>
<rect x="309.05" y="369.88" width="2.20" height="134.62" fill="#f47a00" stroke="#4a2000" stroke-width="0.6"/>
<rect x="311.55" y="397.12" width="2.20" height="107.38" fill="#f47a00" stroke="#4a2000" stroke-width="0.6"/>
<rect x="314.05" y="392.14" width="2.20" height="112.36" fill="#f47a00" stroke="#4a2000" stroke-width="0.6"/>
<rect x="316.55" y="398.50" width="2.20" height="106.00" fill="#f47a00" stroke="#4a2000" stroke-width="0.6"/>
<rect x="319.05" y="403.38" width="2.20" height="101.12" fill="#f47a00" stroke="#4a2000" stroke-width="0.6"/>
<rect x="321.55" y="418.64" width="2.20" height="85.86" fill="#f47a00" stroke="#4a2000" stroke-width="0.6"/>
<rect x="324.05" y="405.92" width="2.20" height="98.58" fill="#f47a00" stroke="#4a2000" stroke-width="0.6"/>
<rect x="326.55" y="405.92" width="2.20" height="98.58" fill="#f47a00" stroke="#4a2000" stroke-width="0.6"/>
<rect x="329.05" y="385.78" width="2.20" height="118.72" fill="#f47a00" stroke="#4a2000" stroke-width="0.6"/>
<rect x="331.55" y="393.73" width="2.20" height="110.77" fill="#f47a00" stroke="#4a2000" stroke-width="0.6"/>
<rect x="334.05" y="377.30" width="2.20" height="127.20" fill="#f47a00" stroke="#4a2000" stroke-width="0.6"/>
<rect x="336.55" y="412.70" width="2.20" height="91.80" fill="#f47a00" stroke="#4a2000" stroke-width="0.6"/>
<rect x="339.05" y="436.98" width="2.20" height="67.52" fill="#f47a00" stroke="#4a2000" stroke-width="0.6"/>
<rect x="341.55" y="428.18" width="2.20" height="76.32" fill="#f47a00" stroke="#4a2000" stroke-width="0.6"/>
<rect x="344.05" y="414.72" width="2.20" height="89.78" fill="#f47a00" stroke="#4a2000" stroke-width="0.6"/>
<rect x="346.55" y="419.70" width="2.20" height="84.80" fill="#f47a00" stroke="#4a2000" stroke-width="0.6"/>
<rect x="349.05" y="401.68" width="2.20" height="102.82" fill="#f47a00" stroke="#4a2000" stroke-width="0.6"/>
<rect x="351.55" y="417.58" width="2.20" height="86.92" fill="#f47a00" stroke="#4a2000" stroke-width="0.6"/>
<rect x="354.05" y="372.00" width="2.20" height="132.50" fill="#f47a00" stroke="#4a2000" stroke-width="0.6"/>
<rect x="356.55" y="410.69" width="2.20" height="93.81" fill="#f47a00" stroke="#4a2000" stroke-width="0.6"/>
<rect x="359.05" y="430.30" width="2.20" height="74.20" fill="#f47a00" stroke="#4a2000" stroke-width="0.6"/>
<rect x="361.55" y="466.34" width="2.20" height="38.16" fill="#f47a00" stroke="#4a2000" stroke-width="0.6"/>
<rect x="364.05" y="428.50" width="2.20" height="76.00" fill="#f47a00" stroke="#4a2000" stroke-width="0.6"/>
<rect x="366.55" y="446.94" width="2.20" height="57.56" fill="#f47a00" stroke="#4a2000" stroke-width="0.6"/>
<rect x="369.05" y="434.54" width="2.20" height="69.96" fill="#f47a00" stroke="#4a2000" stroke-width="0.6"/>
<rect x="371.55" y="443.55" width="2.20" height="60.95" fill="#f47a00" stroke="#4a2000" stroke-width="0.6"/>
<rect x="374.05" y="425.00" width="2.20" height="79.50" fill="#f47a00" stroke="#4a2000" stroke-width="0.6"/>
<rect x="376.55" y="462.42" width="2.20" height="42.08" fill="#f47a00" stroke="#4a2000" stroke-width="0.6"/>
<rect x="379.05" y="455.85" width="2.20" height="48.65" fill="#f47a00" stroke="#4a2000" stroke-width="0.6"/>
<rect x="381.55" y="468.46" width="2.20" height="36.04" fill="#f47a00" stroke="#4a2000" stroke-width="0.6"/>
<rect x="384.05" y="450.02" width="2.20" height="54.48" fill="#f47a00" stroke="#4a2000" stroke-width="0.6"/>
<rect x="386.55" y="444.40" width="2.20" height="60.10" fill="#f47a00" stroke="#4a2000" stroke-width="0.6"/>
<rect x="389.05" y="437.51" width="2.20" height="66.99" fill="#f47a00" stroke="#4a2000" stroke-width="0.6"/>
<rect x="391.55" y="468.88" width="2.20" height="35.62" fill="#f47a00" stroke="#4a2000" stroke-width="0.6"/>
<rect x="394.05" y="434.01" width="2.20" height="70.49" fill="#f47a00" stroke="#4a2000" stroke-width="0.6"/>
<rect x="396.55" y="426.38" width="2.20" height="78.12" fill="#f47a00" stroke="#4a2000" stroke-width="0.6"/>
<rect x="399.05" y="464.11" width="2.20" height="40.39" fill="#f47a00" stroke="#4a2000" stroke-width="0.6"/>
<rect x="401.55" y="475.24" width="2.20" height="29.26" fill="#f47a00" stroke="#4a2000" stroke-width="0.6"/>
<rect x="404.05" y="438.78" width="2.20" height="65.72" fill="#f47a00" stroke="#4a2000" stroke-width="0.6"/>
<rect x="406.55" y="455.21" width="2.20" height="49.29" fill="#f47a00" stroke="#4a2000" stroke-width="0.6"/>
<rect x="409.05" y="428.92" width="2.20" height="75.58" fill="#f47a00" stroke="#4a2000" stroke-width="0.6"/>
<rect x="411.55" y="443.02" width="2.20" height="61.48" fill="#f47a00" stroke="#4a2000" stroke-width="0.6"/>
<rect x="414.05" y="469.31" width="2.20" height="35.19" fill="#f47a00" stroke="#4a2000" stroke-width="0.6"/>
<rect x="416.55" y="466.66" width="2.20" height="37.84" fill="#f47a00" stroke="#4a2000" stroke-width="0.6"/>
<rect x="419.05" y="460.19" width="2.20" height="44.31" fill="#f47a00" stroke="#4a2000" stroke-width="0.6"/>
<rect x="421.55" y="458.07" width="2.20" height="46.43" fill="#f47a00" stroke="#4a2000" stroke-width="0.6"/>
<rect x="424.05" y="460.72" width="2.20" height="43.78" fill="#f47a00" stroke="#4a2000" stroke-width="0.6"/>
<rect x="426.55" y="469.31" width="2.20" height="35.19" fill="#f47a00" stroke="#4a2000" stroke-width="0.6"/>
<rect x="429.05" y="468.78" width="2.20" height="35.72" fill="#f47a00" stroke="#4a2000" stroke-width="0.6"/>
<rect x="431.55" y="449.49" width="2.20" height="55.01" fill="#f47a00" stroke="#4a2000" stroke-width="0.6"/>
<rect x="434.05" y="487.33" width="2.20" height="17.17" fill="#f47a00" stroke="#4a2000" stroke-width="0.6"/>
<rect x="436.55" y="451.18" width="2.20" height="53.32" fill="#f47a00" stroke="#4a2000" stroke-width="0.6"/>
<rect x="439.05" y="441.43" width="2.20" height="63.07" fill="#f47a00" stroke="#4a2000" stroke-width="0.6"/>
<rect x="441.55" y="426.38" width="2.20" height="78.12" fill="#f47a00" stroke="#4a2000" stroke-width="0.6"/>
<rect x="444.05" y="428.18" width="2.20" height="76.32" fill="#f47a00" stroke="#4a2000" stroke-width="0.6"/>
<rect x="446.55" y="439.52" width="2.20" height="64.98" fill="#f47a00" stroke="#4a2000" stroke-width="0.6"/>
<rect x="449.05" y="424.26" width="2.20" height="80.24" fill="#f47a00" stroke="#4a2000" stroke-width="0.6"/>
<rect x="451.55" y="461.15" width="2.20" height="43.35" fill="#f47a00" stroke="#4a2000" stroke-width="0.6"/>
<rect x="454.05" y="462.42" width="2.20" height="42.08" fill="#f47a00" stroke="#4a2000" stroke-width="0.6"/>
<rect x="456.55" y="479.59" width="2.20" height="24.91" fill="#f47a00" stroke="#4a2000" stroke-width="0.6"/>
<rect x="459.05" y="473.23" width="2.20" height="31.27" fill="#f47a00" stroke="#4a2000" stroke-width="0.6"/>
<rect x="461.55" y="474.93" width="2.20" height="29.57" fill="#f47a00" stroke="#4a2000" stroke-width="0.6"/>
<rect x="464.05" y="499.62" width="2.20" height="4.88" fill="#f47a00" stroke="#4a2000" stroke-width="0.6"/>
<rect x="466.55" y="493.26" width="2.20" height="11.24" fill="#f47a00" stroke="#4a2000" stroke-width="0.6"/>
<rect x="469.05" y="459.34" width="2.20" height="45.16" fill="#f47a00" stroke="#4a2000" stroke-width="0.6"/>
<rect x="471.55" y="417.69" width="2.20" height="86.81" fill="#f47a00" stroke="#4a2000" stroke-width="0.6"/>
<rect x="474.05" y="449.49" width="2.20" height="55.01" fill="#f47a00" stroke="#4a2000" stroke-width="0.6"/>
<rect x="476.55" y="467.51" width="2.20" height="36.99" fill="#f47a00" stroke="#4a2000" stroke-width="0.6"/>
<rect x="479.05" y="455.21" width="2.20" height="49.29" fill="#f47a00" stroke="#4a2000" stroke-width="0.6"/>
<rect x="481.55" y="484.36" width="2.20" height="20.14" fill="#f47a00" stroke="#4a2000" stroke-width="0.6"/>
<rect x="486.55" y="472.38" width="2.20" height="32.12" fill="#f47a00" stroke="#4a2000" stroke-width="0.6"/>
<rect x="489.05" y="464.43" width="2.20" height="40.07" fill="#f47a00" stroke="#4a2000" stroke-width="0.6"/>
<rect x="491.55" y="465.49" width="2.20" height="39.01" fill="#f47a00" stroke="#4a2000" stroke-width="0.6"/>
<rect x="494.05" y="454.36" width="2.20" height="50.14" fill="#f47a00" stroke="#4a2000" stroke-width="0.6"/>
<rect x="496.55" y="466.34" width="2.20" height="38.16" fill="#f47a00" stroke="#4a2000" stroke-width="0.6"/>
<rect x="499.05" y="463.58" width="2.20" height="40.92" fill="#f47a00" stroke="#4a2000" stroke-width="0.6"/>
<rect x="501.55" y="478.32" width="2.20" height="26.18" fill="#f47a00" stroke="#4a2000" stroke-width="0.6"/>
<path class="ax" d="M303.4,356.2 V504.6 H505" stroke="#333" stroke-width="0.9"/>
<line x1="300.3" y1="504.50" x2="303.4" y2="504.50" stroke="#333" stroke-width="0.9"/>
<text x="298.6" y="507.20" font-size="7.6" text-anchor="end">0</text>
<line x1="301.7" y1="493.90" x2="303.4" y2="493.90" stroke="#333" stroke-width="0.9"/>
<line x1="300.3" y1="483.30" x2="303.4" y2="483.30" stroke="#333" stroke-width="0.9"/>
<text x="298.6" y="486.00" font-size="7.6" text-anchor="end">2</text>
<line x1="301.7" y1="472.70" x2="303.4" y2="472.70" stroke="#333" stroke-width="0.9"/>
<line x1="300.3" y1="462.10" x2="303.4" y2="462.10" stroke="#333" stroke-width="0.9"/>
<text x="298.6" y="464.80" font-size="7.6" text-anchor="end">4</text>
<line x1="301.7" y1="451.50" x2="303.4" y2="451.50" stroke="#333" stroke-width="0.9"/>
<line x1="300.3" y1="440.90" x2="303.4" y2="440.90" stroke="#333" stroke-width="0.9"/>
<text x="298.6" y="443.60" font-size="7.6" text-anchor="end">6</text>
<line x1="301.7" y1="430.30" x2="303.4" y2="430.30" stroke="#333" stroke-width="0.9"/>
<line x1="300.3" y1="419.70" x2="303.4" y2="419.70" stroke="#333" stroke-width="0.9"/>
<text x="298.6" y="422.40" font-size="7.6" text-anchor="end">8</text>
<line x1="301.7" y1="409.10" x2="303.4" y2="409.10" stroke="#333" stroke-width="0.9"/>
<line x1="300.3" y1="398.50" x2="303.4" y2="398.50" stroke="#333" stroke-width="0.9"/>
<text x="298.6" y="401.20" font-size="7.6" text-anchor="end">10</text>
<line x1="301.7" y1="387.90" x2="303.4" y2="387.90" stroke="#333" stroke-width="0.9"/>
<line x1="300.3" y1="377.30" x2="303.4" y2="377.30" stroke="#333" stroke-width="0.9"/>
<text x="298.6" y="380.00" font-size="7.6" text-anchor="end">12</text>
<line x1="301.7" y1="366.70" x2="303.4" y2="366.70" stroke="#333" stroke-width="0.9"/>
<line x1="300.3" y1="356.10" x2="303.4" y2="356.10" stroke="#333" stroke-width="0.9"/>
<text x="298.6" y="358.80" font-size="7.6" text-anchor="end">14</text>
<line x1="315.05" y1="504.6" x2="315.05" y2="506.40" stroke="#333" stroke-width="0.9"/>
<line x1="327.50" y1="504.6" x2="327.50" y2="507.60" stroke="#333" stroke-width="0.9"/>
<line x1="339.95" y1="504.6" x2="339.95" y2="506.40" stroke="#333" stroke-width="0.9"/>
<line x1="352.40" y1="504.6" x2="352.40" y2="507.60" stroke="#333" stroke-width="0.9"/>
<line x1="364.85" y1="504.6" x2="364.85" y2="506.40" stroke="#333" stroke-width="0.9"/>
<line x1="377.30" y1="504.6" x2="377.30" y2="507.60" stroke="#333" stroke-width="0.9"/>
<line x1="389.75" y1="504.6" x2="389.75" y2="506.40" stroke="#333" stroke-width="0.9"/>
<line x1="402.20" y1="504.6" x2="402.20" y2="507.60" stroke="#333" stroke-width="0.9"/>
<line x1="414.65" y1="504.6" x2="414.65" y2="506.40" stroke="#333" stroke-width="0.9"/>
<line x1="427.10" y1="504.6" x2="427.10" y2="507.60" stroke="#333" stroke-width="0.9"/>
<line x1="439.55" y1="504.6" x2="439.55" y2="506.40" stroke="#333" stroke-width="0.9"/>
<line x1="452.00" y1="504.6" x2="452.00" y2="507.60" stroke="#333" stroke-width="0.9"/>
<line x1="464.45" y1="504.6" x2="464.45" y2="506.40" stroke="#333" stroke-width="0.9"/>
<line x1="476.90" y1="504.6" x2="476.90" y2="507.60" stroke="#333" stroke-width="0.9"/>
<line x1="489.35" y1="504.6" x2="489.35" y2="506.40" stroke="#333" stroke-width="0.9"/>
<line x1="501.80" y1="504.6" x2="501.80" y2="507.60" stroke="#333" stroke-width="0.9"/>
<text x="327.30" y="516.1" font-size="7.6" text-anchor="middle">10:54</text>
<text x="352.30" y="516.1" font-size="7.6" text-anchor="middle">11:50</text>
<text x="377.30" y="516.1" font-size="7.6" text-anchor="middle">12:39</text>
<text x="402.30" y="516.1" font-size="7.6" text-anchor="middle">13:31</text>
<text x="427.30" y="516.1" font-size="7.6" text-anchor="middle">14:20</text>
<text x="452.30" y="516.1" font-size="7.6" text-anchor="middle">15:21</text>
<text x="477.30" y="516.1" font-size="7.6" text-anchor="middle">16:10</text>
<text x="502.30" y="516.1" font-size="7.6" text-anchor="middle">17:01</text>
<text x="404.2" y="529.8" font-size="7.7" text-anchor="middle">Time</text>
<text transform="translate(283.20,443.00) rotate(-90)" font-size="7.2" text-anchor="middle" textLength="109.0" lengthAdjust="spacingAndGlyphs">abs(<tspan font-style="italic">PI1<tspan dy="1.5" font-size="4">_ΔV</tspan><tspan dy="-1.5"> - PI0</tspan><tspan dy="1.5" font-size="4">_ΔV</tspan></tspan><tspan dy="-1.5">)/</tspan><tspan font-style="italic">PI0<tspan dy="1.5" font-size="4">_ΔV</tspan></tspan><tspan dy="-1.5"> *100 (%)</tspan></text>
</g>
</svg></body></html>
